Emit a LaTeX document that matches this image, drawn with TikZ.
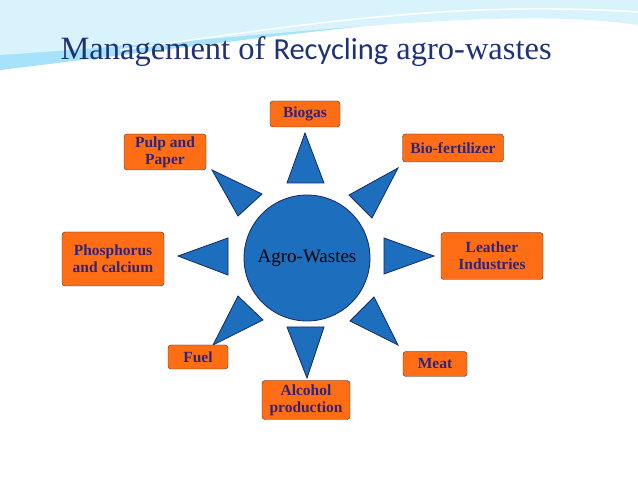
\documentclass[tikz,border=0pt]{standalone}
\usepackage{fontspec}
\setmainfont{Liberation Serif}
\newfontfamily\boxfont{Liberation Serif}
\newfontfamily\recfont{Carlito}
\begin{document}
\begin{tikzpicture}[x=1pt,y=-1pt,
  box/.style={draw=black!80,fill={rgb,255:red,255;green,110;blue,20},rounded corners=3pt,font=\boxfont\bfseries\fontsize{15.5}{17}\selectfont,text={rgb,255:red,50;green,35;blue,120},align=center,inner sep=0pt},
  tri/.style={draw={rgb,255:red,20;green,40;blue,100},fill={rgb,255:red,30;green,110;blue,190},line width=0.8pt}]
\useasboundingbox (0,0) rectangle (638,478);
\fill[white] (0,0) rectangle (638,478);
% header swoosh
\fill[cyan!35] (0,0) -- (638,0) -- (638,8) .. controls (450,10) and (250,40) .. (0,70) -- cycle;
\fill[cyan!15] (0,0) -- (638,0) -- (638,25) .. controls (500,5) and (300,35) .. (0,55) -- cycle;
\draw[white,line width=1.5pt] (120,50) .. controls (300,25) and (450,0) .. (638,12);
\node[anchor=west,font=\fontsize{32.5}{36}\selectfont,text={rgb,255:red,30;green,50;blue,120}] (title) at (57,52) {Management of {\recfont\fontsize{30.5}{36}\selectfont Recycling} agro-wastes};
% circle
\node[circle,minimum size=126pt,tri,font=\fontsize{19}{21}\selectfont,text=black] (c) at (307,258) {Agro-Wastes};
% triangles
\draw[tri] (305,133) -- (324,183) -- (287,183) -- cycle;
\draw[tri] (307,378) -- (287,327) -- (324,327) -- cycle;
\draw[tri] (178,256) -- (228,238) -- (228,275) -- cycle;
\draw[tri] (434,256) -- (384,238) -- (384,274) -- cycle;
\draw[tri] (398,168) -- (349,195) -- (372,218) -- cycle;
\draw[tri] (212,170) -- (238,216) -- (262,194) -- cycle;
\draw[tri] (213,345) -- (238,296) -- (263,320) -- cycle;
\draw[tri] (398,345) -- (350,321) -- (374,297) -- cycle;
% boxes
\node[box,minimum width=70pt,minimum height=26pt] (b1) at (305,114) {Biogas};
\node[box,minimum width=82pt,minimum height=36pt] (b2) at (165,152) {Pulp and\\Paper};
\node[box,minimum width=101pt,minimum height=28pt] (b3) at (453,148) {Bio-fertilizer};
\node[box,minimum width=102pt,minimum height=54pt] (b4) at (113,259) {Phosphorus\\and calcium};
\node[box,minimum width=102pt,minimum height=47pt] (b5) at (492,256) {Leather\\Industries};
\node[box,minimum width=60pt,minimum height=24pt] (b6) at (198,357) {Fuel};
\node[box,minimum width=64pt,minimum height=25pt] (b7) at (435,364) {Meat};
\node[box,minimum width=88pt,minimum height=39pt] (b8) at (306,400) {Alcohol\\production};
\end{tikzpicture}
\end{document}
